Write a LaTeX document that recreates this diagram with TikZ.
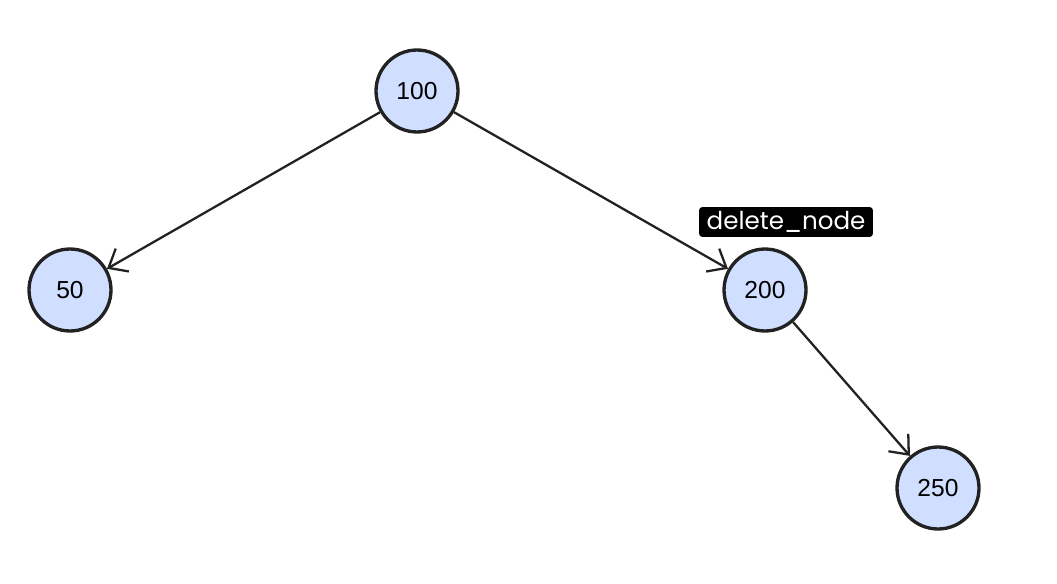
\documentclass[tikz,border=0pt]{standalone}
\usepackage{fontspec}
\setmainfont{Liberation Sans}
\newfontfamily\labelfont{Poppins}
\usetikzlibrary{arrows.meta}
\definecolor{nodefill}{HTML}{D0DEFF}
\definecolor{edgecol}{HTML}{222222}
\begin{document}
\begin{tikzpicture}[x=0.02cm,y=-0.02cm,
  bst/.style={circle,draw=edgecol,line width=1.9pt,fill=nodefill,minimum size=1.64cm,inner sep=0pt,font=\fontsize{14}{16}\selectfont},
  link/.style={draw=edgecol,line width=1.3pt,-{Straight Barb[length=9pt,width=15pt,line width=1.3pt]}}]
\useasboundingbox (0,0) rectangle (1057,584);

\node[bst] (n100) at (417,91) {100};
\node[bst] (n50) at (70,290) {50};
\node[bst] (n200) at (765,290) {200};
\node[bst] (n250) at (938,488) {250};

\draw[link] (n100) -- (n50);
\draw[link] (n100) -- (n200);
\draw[link] (n200) -- (n250);

\node[fill=black,text=white,rounded corners=2pt,inner sep=2pt,minimum width=3.48cm,minimum height=0.6cm,font=\labelfont\fontsize{14}{16}\selectfont] (tag) at (786,222) {delete\_node};
\end{tikzpicture}
\end{document}
